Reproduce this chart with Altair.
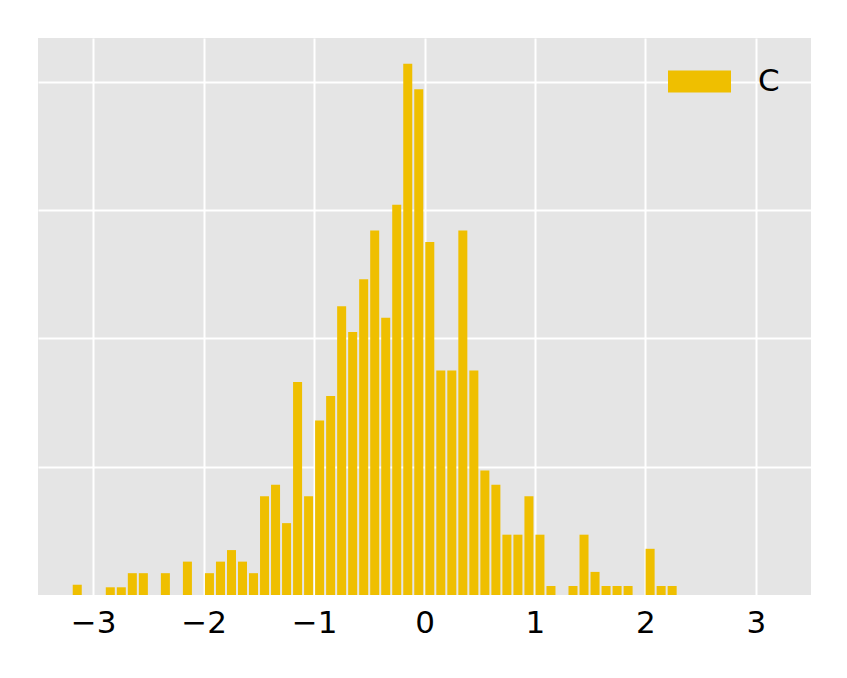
import altair as alt
import numpy as np
import pandas as pd

# Histogram of series "C": 55 equal bins between the sample min and max
series_name = "C"
sample_min = -3.199
sample_max = 2.288
n_bins = 55
heights = [0.008, 0, 0, 0.006, 0.006, 0.017, 0.017, 0, 0.017, 0, 0.026, 0,
           0.017, 0.026, 0.035, 0.026, 0.017, 0.077, 0.086, 0.056, 0.166,
           0.077, 0.136, 0.155, 0.225, 0.205, 0.246, 0.284, 0.216, 0.304,
           0.414, 0.394, 0.275, 0.175, 0.175, 0.284, 0.175, 0.097, 0.086,
           0.047, 0.047, 0.077, 0.047, 0.007, 0, 0.007, 0.047, 0.018, 0.007,
           0.007, 0.007, 0, 0.036, 0.007, 0.007]
x_ticks = [-3, -2, -1, 0, 1, 2, 3]
y_grid = [0.1, 0.2, 0.3, 0.4]

edges = np.linspace(sample_min, sample_max, n_bins + 1)
df = pd.DataFrame({
    "lo": edges[:-1],
    "hi": edges[1:],
    "h": heights,
    "series": series_name,
})
df = df[df["h"] > 0]

bar_color = "#EFBF00"

chart = alt.Chart(df).mark_bar(binSpacing=2, color=bar_color).encode(
    x=alt.X("lo:Q", bin="binned",
            scale=alt.Scale(domain=[-3.5, 3.5], nice=False, zero=False),
            axis=alt.Axis(values=x_ticks, title=None, ticks=False, tickSize=0,
                          domain=False, labelFontSize=31, labelPadding=13,
                          labelColor="#000000", labelFont="DejaVu Sans",
                          grid=True, gridColor="#FFFFFF", gridWidth=2,
                          labelExpr="replace(datum.label, '-', '\u2212')")),
    x2="hi:Q",
    y=alt.Y("h:Q", scale=alt.Scale(domain=[0, 0.434], nice=False),
            axis=alt.Axis(values=y_grid, title=None, labels=False, ticks=False,
                          domain=False, grid=True, gridColor="#FFFFFF",
                          gridWidth=2)),
    color=alt.Color("series:N",
                    scale=alt.Scale(domain=[series_name], range=[bar_color]),
                    legend=alt.Legend(title=None, orient="none",
                                      legendX=630, legendY=12, padding=0,
                                      symbolType="M-1,-0.349H1V0.349H-1Z",
                                      symbolSize=3969, symbolStrokeWidth=0,
                                      labelFontSize=31, labelOffset=27,
                                      labelFont="DejaVu Sans",
                                      labelColor="#000000")),
).properties(
    width=773,
    height=557,
    autosize=alt.AutoSizeParams(type="none"),
    padding={"left": 30, "top": 30, "right": 20, "bottom": 60},
).configure_view(
    fill="#E5E5E5", stroke=None
).configure_axis(
    gridOpacity=1
)

chart.save("out.html", embed_options={"renderer": "svg", "actions": False})
